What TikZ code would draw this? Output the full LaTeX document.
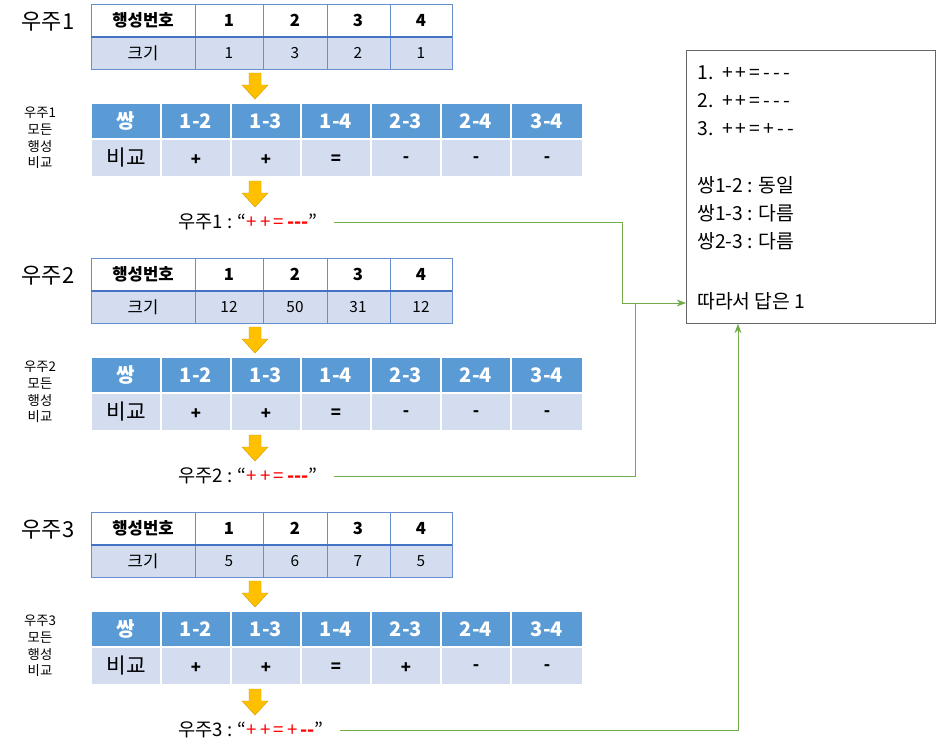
\documentclass[tikz,border=0pt]{standalone}
\usepackage{fontspec}
\setmainfont{Noto Sans CJK KR}
\usetikzlibrary{arrows.meta}
\definecolor{hdr}{HTML}{5B9BD5}
\definecolor{lite}{HTML}{D3DDEF}
\definecolor{tblb}{HTML}{4472C4}
\definecolor{gold}{HTML}{FFC000}
\definecolor{gline}{HTML}{70AD47}
\tikzset{
 tcell/.style={draw=tblb!80,line width=0.6pt},
 pcell/.style={draw=white,line width=1.2pt},
 yarrow/.style={fill=gold,draw=gold!80!black,line width=0.3pt},
 link/.style={draw=gline,line width=0.6pt},
 boxtxt/.style={anchor=west,font=\fontsize{14.5}{16}\selectfont,inner sep=0pt}
}
\newcommand\downarr[2]{%
 \path[yarrow] (#1-6,#2) -- (#1+6,#2) -- (#1+6,#2+12) -- (#1+13,#2+12) -- (#1,#2+26) -- (#1-13,#2+12) -- (#1-6,#2+12) -- cycle;}
\newcommand\universe[6]{%
 \begin{scope}[yshift=-#2*0.75pt]
 \node[font=\fontsize{16.5}{18}\selectfont] (lab#1) at (48,22) {우주#1};
 \fill[white] (91,4) rectangle (452,37);
 \fill[lite] (91,37) rectangle (452,69);
 \foreach \a/\b in {91/195,195/263,263/327,327/390,390/452}{
   \draw[tcell] (\a,4) rectangle (\b,37);
   \draw[tcell] (\a,37) rectangle (\b,69);}
 \draw[tblb,line width=1.2pt] (91,37) -- (452,37);
 \node[font=\bfseries\fontsize{12.5}{14}\selectfont] (h#1) at (143,20) {행성번호};
 \node[font=\fontsize{12.5}{14}\selectfont] (k#1) at (143,53) {크기};
 \foreach \x/\n [count=\i] in {229/1,295/2,358/3,421/4}{
   \node[font=\bfseries\fontsize{12.5}{14}\selectfont] (n#1\i) at (\x,20) {\n};}
 \foreach \x/\v [count=\i] in {#3}{
   \node[font=\fontsize{11.5}{13}\selectfont] (s#1\i) at (\x,53) {\v};}
 \downarr{255}{73}
 \node[font=\fontsize{10}{12.5}\selectfont,align=center] (sl#1) at (40,138) {우주#1\\모든\\행성\\비교};
 \foreach \a/\b [count=\i] in {91/161,161/231,231/301,301/371,371/441,441/511,511/583}{
   \fill[hdr] (\a,103) rectangle (\b,139);
   \fill[lite] (\a,139) rectangle (\b,177);
   \draw[pcell] (\a,103) rectangle (\b,139);
   \draw[pcell] (\a,139) rectangle (\b,177);}
 \node[font=\bfseries\fontsize{15}{16}\selectfont,text=white] (p#1) at (126,121) {쌍};
 \foreach \x/\t [count=\i] in {196/1-2,266/1-3,336/1-4,406/2-3,476/2-4,547/3-4}{
   \node[font=\bfseries\fontsize{15}{16}\selectfont,text=white] (pp#1\i) at (\x,121) {\t};}
 \node[font=\fontsize{16}{17}\selectfont] (c#1) at (126,158) {비교};
 \foreach \x/\t [count=\i] in {#4}{
   \node[font=\bfseries\fontsize{12.5}{14}\selectfont] (cc#1\i) at (\x,160) {\t};}
 \downarr{255}{181}
 \node[font=\fontsize{14}{15}\selectfont,anchor=west,inner sep=0pt] (r#1) at (178,222) {우주#1 : “\textcolor{red}{#5}”};
 \end{scope}}
\begin{document}
\begin{tikzpicture}[x=0.75pt,y=-0.75pt]
\useasboundingbox (0,0) rectangle (936,754);
\universe{1}{0}{229/1,295/3,358/2,421/1}{196/+,266/+,336/=,406/-,476/-,547/-}{+\,+\,=\,\textbf{{-}{-}{-}}}{}
\universe{2}{254}{229/12,295/50,358/31,421/12}{196/+,266/+,336/=,406/-,476/-,547/-}{+\,+\,=\,\textbf{{-}{-}{-}}}{}
\universe{3}{508}{229/5,295/6,358/7,421/5}{196/+,266/+,336/=,406/+,476/-,547/-}{+\,+\,=\,+\,\textbf{{-}{-}}}{}
\node[draw=black!60,line width=0.6pt,minimum width=249*0.75pt,minimum height=273*0.75pt,anchor=north west,inner sep=0pt] (box) at (686,50) {};
\node[boxtxt] (b1) at (697,73) {1.\ \ +\,+\,=\,{-}\,{-}\,{-}};
\node[boxtxt] (b2) at (697,101) {2.\ \ +\,+\,=\,{-}\,{-}\,{-}};
\node[boxtxt] (b3) at (697,129) {3.\ \ +\,+\,=\,+\,{-}\,{-}};
\node[boxtxt] (b4) at (697,185) {쌍1-2 : 동일};
\node[boxtxt] (b5) at (697,213) {쌍1-3 : 다름};
\node[boxtxt] (b6) at (697,241) {쌍2-3 : 다름};
\node[boxtxt] (b7) at (697,301) {따라서 답은 1};
\coordinate (j) at (box.west |- 0,303);
\draw[link,-{Stealth[length=7pt]}] ([xshift=12pt]r1.east) -| (622,303) -- (j);
\draw[link] ([xshift=12pt]r2.east) -| (635,303);
\draw[link,-{Stealth[length=7pt]}] ([xshift=12pt]r3.east) -| (box.south -| 738,0);
\end{tikzpicture}
\end{document}
